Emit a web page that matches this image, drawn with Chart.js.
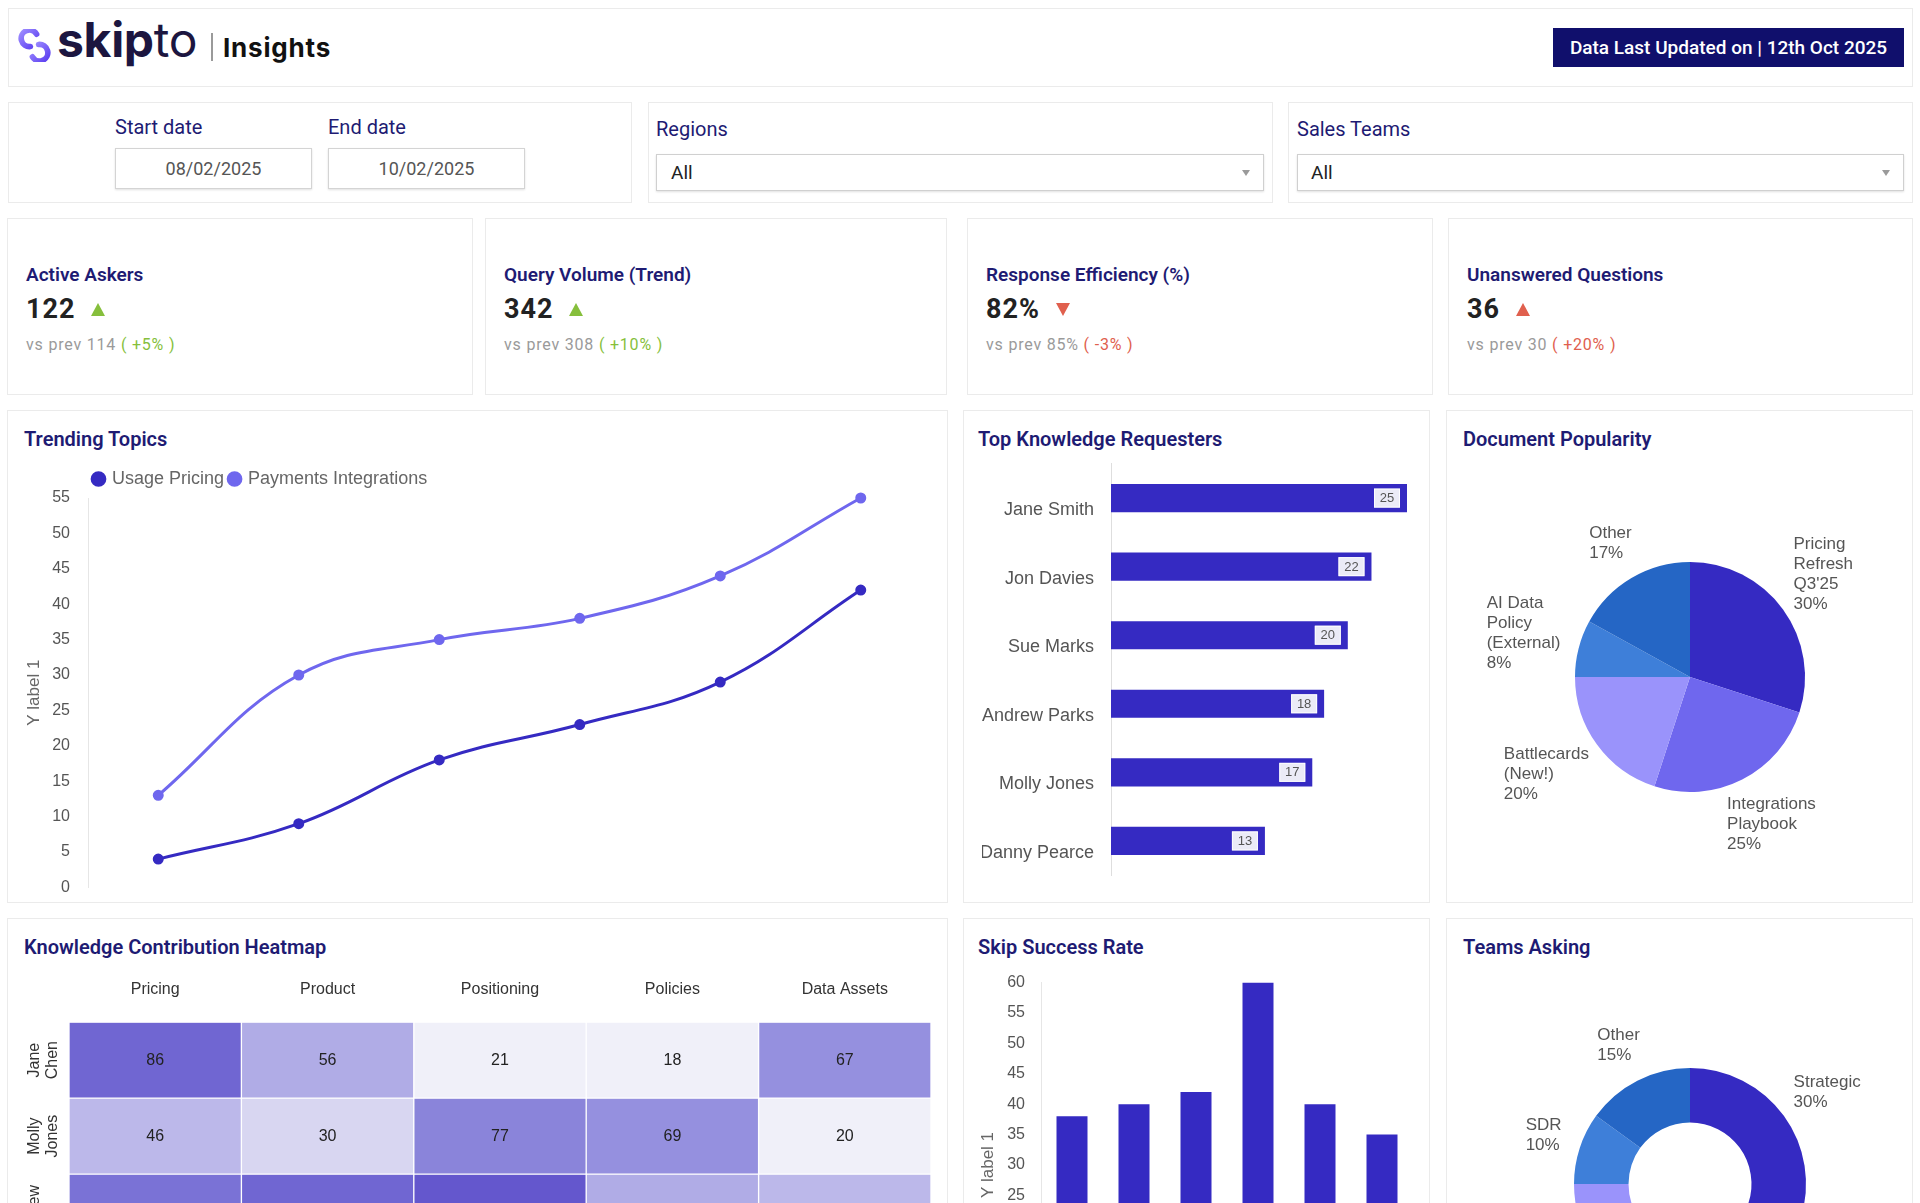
<!DOCTYPE html>
<html>
<head>
<meta charset="utf-8">
<script src="https://cdn.jsdelivr.net/npm/chart.js@4.4.0/dist/chart.umd.min.js"></script>
<style>
  html, body { margin: 0; padding: 0; background: #fff; overflow: hidden; width: 1920px; height: 1203px; }
  body { position: relative; font-family: Roboto, 'Liberation Sans', sans-serif; }
  .card { position: absolute; box-sizing: border-box; border: 1.5px solid #ebebeb; background: #fff; }
  .abs { position: absolute; }
  .flabel { position: absolute; font-size: 20px; line-height: 1; color: #1e1b73; }
  .datebox { position: absolute; box-sizing: border-box; width: 197px; height: 41px; border: 1px solid #d4d4d4;
             box-shadow: 0 1px 2px rgba(0,0,0,0.12); font-size: 18px; color: #555; text-align: center; line-height: 39px; }
  .select { position: absolute; box-sizing: border-box; height: 37px; border: 1px solid #d0d0d0;
            box-shadow: 0 1px 2px rgba(0,0,0,0.12); font-size: 19px; color: #222; line-height: 35px; }
  .select .arrow { position: absolute; top: 15px; width: 0; height: 0; border-left: 4.5px solid transparent;
                   border-right: 4.5px solid transparent; border-top: 6px solid #9a9a9a; }
  .kpi-t { position: absolute; left: 18px; top: 46px; font-size: 19px; line-height: 1; font-weight: 600; color: #1e1b73; }
  .kpi-v { position: absolute; left: 18px; top: 77px; font-size: 27px; line-height: 27px; font-weight: 700; color: #222;
           letter-spacing: 1px; display: flex; align-items: center; }
  .kpi-s { position: absolute; left: 18px; top: 118px; font-size: 16px; line-height: 1; color: #9a9a9a; letter-spacing: 0.8px; }
  .tri { display: inline-block; width: 0; height: 0; margin-left: 16px; border-left: 7px solid transparent; border-right: 7px solid transparent; }
  .tri.up { border-bottom: 13px solid; }
  .tri.down { border-top: 13px solid; }
  .g { color: #86bf3c; }
  .r { color: #e0604e; }
  .ctitle { position: absolute; left: 16px; top: 18px; font-size: 20px; line-height: 1; font-weight: 600; color: #1e1b73; }
  .cwrap { position: absolute; }
</style>
</head>
<body>

<!-- header -->
<div class="card" style="left:8px;top:8px;width:1905px;height:79px"></div>
<svg class="abs" style="left:18px;top:29px" width="33" height="33" viewBox="0 0 32 32">
  <defs>
    <linearGradient id="lg" x1="0" y1="0" x2="1" y2="1">
      <stop offset="0" stop-color="#9d8cff"/>
      <stop offset="1" stop-color="#5b3ef0"/>
    </linearGradient>
  </defs>
  <path d="M18 5 A8 8 0 1 0 12 17" fill="none" stroke="url(#lg)" stroke-width="5.5" stroke-linecap="round"/>
  <path d="M14 27 A8 8 0 1 0 20 15" fill="none" stroke="url(#lg)" stroke-width="5.5" stroke-linecap="round"/>
</svg>
<div class="abs" style="left:57px;top:16px;font-family:Inter,sans-serif;font-size:48px;line-height:1;color:#1c1640;letter-spacing:-0.3px"><span style="font-weight:700">skip</span><span style="font-weight:400">to</span></div>
<div class="abs" style="left:211px;top:33px;width:1.5px;height:28px;background:#9a9a9a"></div>
<div class="abs" style="left:223px;top:35px;font-family:Inter,sans-serif;font-size:26px;line-height:1;font-weight:700;color:#111;letter-spacing:0.8px">Insights</div>
<div class="abs" style="left:1553px;top:28px;width:351px;height:39px;background:#100f6c;color:#fff;font-size:19px;font-weight:500;line-height:39px;text-align:center">Data Last Updated on | 12th Oct 2025</div>

<!-- filters -->
<div class="card" style="left:8px;top:102px;width:624px;height:101px">
  <div class="flabel" style="left:106px;top:14px">Start date</div>
  <div class="flabel" style="left:319px;top:14px">End date</div>
  <div class="datebox" style="left:106px;top:45px">08/02/2025</div>
  <div class="datebox" style="left:319px;top:45px">10/02/2025</div>
</div>
<div class="card" style="left:648px;top:102px;width:625px;height:101px">
  <div class="flabel" style="left:7px;top:16px">Regions</div>
  <div class="select" style="left:7px;top:51px;width:608px;padding-left:14px">All<span class="arrow" style="left:585px"></span></div>
</div>
<div class="card" style="left:1288px;top:102px;width:625px;height:101px">
  <div class="flabel" style="left:8px;top:16px">Sales Teams</div>
  <div class="select" style="left:8px;top:51px;width:607px;padding-left:13px">All<span class="arrow" style="left:584px"></span></div>
</div>

<!-- KPI cards -->
<div class="card" style="left:7px;top:218px;width:466px;height:177px">
  <div class="kpi-t">Active Askers</div>
  <div class="kpi-v">122<span class="tri up g"></span></div>
  <div class="kpi-s">vs prev 114 <span class="g">( +5% )</span></div>
</div>
<div class="card" style="left:485px;top:218px;width:462px;height:177px">
  <div class="kpi-t">Query Volume (Trend)</div>
  <div class="kpi-v">342<span class="tri up g"></span></div>
  <div class="kpi-s">vs prev 308 <span class="g">( +10% )</span></div>
</div>
<div class="card" style="left:967px;top:218px;width:466px;height:177px">
  <div class="kpi-t">Response Efficiency (%)</div>
  <div class="kpi-v">82%<span class="tri down r"></span></div>
  <div class="kpi-s">vs prev 85% <span class="r">( -3% )</span></div>
</div>
<div class="card" style="left:1448px;top:218px;width:465px;height:177px">
  <div class="kpi-t">Unanswered Questions</div>
  <div class="kpi-v">36<span class="tri up r"></span></div>
  <div class="kpi-s">vs prev 30 <span class="r">( +20% )</span></div>
</div>

<!-- chart cards row 1 -->
<div class="card" style="left:7px;top:410px;width:941px;height:493px"><div class="ctitle">Trending Topics</div></div>
<div class="card" style="left:963px;top:410px;width:467px;height:493px"><div class="ctitle" style="left:14px">Top Knowledge Requesters</div></div>
<div class="card" style="left:1446px;top:410px;width:467px;height:493px"><div class="ctitle">Document Popularity</div></div>

<!-- chart cards row 2 -->
<div class="card" style="left:7px;top:918px;width:941px;height:493px"><div class="ctitle">Knowledge Contribution Heatmap</div></div>
<div class="card" style="left:963px;top:918px;width:467px;height:493px"><div class="ctitle" style="left:14px">Skip Success Rate</div></div>
<div class="card" style="left:1446px;top:918px;width:467px;height:493px"><div class="ctitle">Teams Asking</div></div>

<div class="cwrap" style="left:21px;top:464px;width:917px;height:451px"><canvas id="trend"></canvas></div>
<div class="cwrap" style="left:982px;top:436px;width:438px;height:467px"><canvas id="topk"></canvas></div>
<div class="cwrap" style="left:1456px;top:460px;width:448px;height:434px"><canvas id="docs"></canvas></div>
<div class="cwrap" style="left:20px;top:957px;width:920px;height:369px"><canvas id="heat"></canvas></div>
<div class="cwrap" style="left:975px;top:957px;width:450px;height:416px"><canvas id="skip"></canvas></div>
<div class="cwrap" style="left:1456px;top:960px;width:448px;height:440px"><canvas id="teams"></canvas></div>

<script>
// ---- data ----
const trendWeeks = ['Wk 1', 'Wk 2', 'Wk 3', 'Wk 4', 'Wk 5', 'Wk 6'];
const usagePricing = [4, 9, 18, 23, 29, 42];
const paymentsIntegrations = [13, 30, 35, 38, 44, 55];

const requesters = ['Jane Smith', 'Jon Davies', 'Sue Marks', 'Andrew Parks', 'Molly Jones', 'Danny Pearce'];
const requestCounts = [25, 22, 20, 18, 17, 13];

const docNames = [['Pricing', 'Refresh', "Q3'25"], ['Integrations', 'Playbook'], ['Battlecards', '(New!)'], ['AI Data', 'Policy', '(External)'], ['Other']];
const docShares = [30, 25, 20, 8, 17];

const heatColumns = ['Pricing', 'Product', 'Positioning', 'Policies', 'Data Assets'];
const heatPeople = [['Jane', 'Chen'], ['Molly', 'Jones'], ['Andrew', 'Li'], ['Sue', 'Marks']];
const heatJane = [86, 56, 21, 18, 67];
const heatMolly = [46, 30, 77, 69, 20];
const heatAndrew = [82, 88, 94, 54, 45];
const heatSue = [35, 62, 48, 72, 58];

const skipPeriods = ['Jan', 'Feb', 'Mar', 'Apr', 'May', 'Jun'];
const skipRates = [38, 40, 42, 60, 40, 35];

const teamNames = [['Strategic'], ['Enterprise'], ['Mid-Market'], ['SDR'], ['Other']];
const teamShares = [30, 25, 20, 10, 15];

const palette = ['#352ac2', '#6f67ee', '#9a93fb', '#3e7fd9', '#2566c5'];

Chart.defaults.font.family = "'Liberation Sans', Arial, sans-serif";
Chart.defaults.color = '#555';
Chart.defaults.animation = false;
Chart.defaults.plugins.tooltip.enabled = false;

// labels outside pie slices, text block pushed out along the slice middle
const outsideLabels = {
  id: 'outsideLabels',
  afterDatasetsDraw(chart) {
    const ctx = chart.ctx;
    const ds = chart.data.datasets[0];
    const lh = 20;
    ctx.save();
    ctx.font = "17px 'Liberation Sans', Arial, sans-serif";
    ctx.fillStyle = '#555';
    ctx.textAlign = 'left';
    ctx.textBaseline = 'middle';
    chart.getDatasetMeta(0).data.forEach((arc, i) => {
      const lines = chart.data.labels[i].concat([ds.data[i] + '%']);
      const w = Math.max(...lines.map(l => ctx.measureText(l).width));
      const h = lines.length * lh;
      const mid = (arc.startAngle + arc.endAngle) / 2;
      const dx = Math.cos(mid), dy = Math.sin(mid);
      const d = arc.outerRadius + 20;
      const cx = arc.x + dx * d + dx * w / 2;
      const cy = arc.y + dy * d + dy * h / 2;
      lines.forEach((l, k) => ctx.fillText(l, cx - w / 2, cy - h / 2 + lh / 2 + k * lh));
    });
    ctx.restore();
  }
};

// small value box at the end of each bar
const valueBoxes = {
  id: 'valueBoxes',
  afterDatasetsDraw(chart) {
    const ctx = chart.ctx;
    ctx.save();
    ctx.font = "13px 'Liberation Sans', Arial, sans-serif";
    ctx.textAlign = 'center';
    ctx.textBaseline = 'middle';
    chart.getDatasetMeta(0).data.forEach((bar, i) => {
      const bw = 26, bh = 19;
      const x = bar.x - 7 - bw, y = bar.y - bh / 2;
      ctx.fillStyle = '#ebebf7';
      ctx.fillRect(x, y, bw, bh);
      ctx.strokeStyle = 'rgba(255,255,255,0.9)';
      ctx.lineWidth = 1;
      ctx.strokeRect(x + 0.5, y + 0.5, bw - 1, bh - 1);
      ctx.fillStyle = '#555';
      ctx.fillText(String(chart.data.datasets[0].data[i]), x + bw / 2, bar.y + 0.5);
    });
    ctx.restore();
  }
};

// ---- trending topics ----
new Chart(document.getElementById('trend'), {
  type: 'line',
  data: {
    labels: trendWeeks,
    datasets: [
      { label: 'Usage Pricing', data: usagePricing, borderColor: palette[0], backgroundColor: palette[0],
        pointBackgroundColor: palette[0], borderWidth: 3, pointRadius: 4, tension: 0.4 },
      { label: 'Payments Integrations', data: paymentsIntegrations, borderColor: palette[1], backgroundColor: palette[1],
        pointBackgroundColor: palette[1], borderWidth: 3, pointRadius: 4, tension: 0.4 }
    ]
  },
  options: {
    responsive: true,
    maintainAspectRatio: false,
    layout: { padding: { right: 2 } },
    plugins: {
      legend: {
        position: 'top', align: 'start', fullSize: false,
        labels: { usePointStyle: true, pointStyle: 'circle', boxWidth: 9, boxHeight: 9, padding: 6,
                  color: '#666', font: { size: 18 } }
      }
    },
    scales: {
      x: { display: false, offset: true },
      y: {
        beginAtZero: true,
        afterFit: s => { s.width = 67; },
        ticks: { stepSize: 5, padding: 18, color: '#555', font: { size: 16 } },
        grid: { display: false, drawTicks: false },
        border: { color: '#e6e6e6' },
        title: { display: true, text: 'Y label 1', color: '#666', font: { size: 17 }, padding: { top: 3, bottom: 4 } }
      }
    }
  }
});

// ---- top knowledge requesters ----
new Chart(document.getElementById('topk'), {
  type: 'bar',
  data: {
    labels: requesters,
    datasets: [{ label: 'Requests', data: requestCounts, backgroundColor: palette[0],
                 categoryPercentage: 0.82, barPercentage: 0.5 }]
  },
  options: {
    indexAxis: 'y',
    responsive: true,
    maintainAspectRatio: false,
    layout: { padding: { right: 13 } },
    plugins: { legend: { display: false } },
    scales: {
      x: { display: false, beginAtZero: true, max: Math.max(...requestCounts) },
      y: {
        afterFit: s => { s.width = 129; },
        grid: { display: false, drawTicks: false },
        border: { color: '#dedede' },
        ticks: { padding: 17, labelOffset: 12, color: '#555', font: { size: 18 } }
      }
    }
  },
  plugins: [valueBoxes]
});

// ---- document popularity ----
new Chart(document.getElementById('docs'), {
  type: 'pie',
  data: {
    labels: docNames,
    datasets: [{ data: docShares, backgroundColor: palette, borderWidth: 0 }]
  },
  options: {
    responsive: true,
    maintainAspectRatio: false,
    layout: { padding: { left: 119, right: 99, top: 102, bottom: 102 } },
    plugins: { legend: { display: false } }
  },
  plugins: [outsideLabels]
});

// ---- heatmap ----
const heatRows = [heatJane, heatMolly, heatAndrew, heatSue];
function heatColor(v) {
  if (v >= 90) return '#6457cd';
  if (v >= 85) return '#7066d2';
  if (v >= 80) return '#7a72d6';
  if (v >= 70) return '#8a84da';
  if (v >= 60) return '#9590df';
  if (v >= 50) return '#b0ace6';
  if (v >= 40) return '#bcb8ea';
  if (v >= 30) return '#d8d6f1';
  return '#f0f0f9';
}
const heatText = {
  id: 'heatText',
  afterDatasetsDraw(chart) {
    const ctx = chart.ctx;
    const yScale = chart.scales.y;
    ctx.save();
    ctx.textAlign = 'center';
    ctx.textBaseline = 'middle';
    ctx.font = "16px 'Liberation Sans', Arial, sans-serif";
    ctx.fillStyle = '#222';
    heatRows.forEach((row, r) => {
      chart.getDatasetMeta(r).data.forEach((cell, c) => {
        const p = cell.getCenterPoint();
        ctx.fillText(String(row[c]), p.x, p.y);
      });
    });
    ctx.fillStyle = '#333';
    heatPeople.forEach((name, r) => {
      const yc = yScale.getPixelForValue(r + 0.5);
      ctx.save();
      ctx.translate(chart.chartArea.left - 25, yc);
      ctx.rotate(-Math.PI / 2);
      ctx.fillText(name[0], 0, -9);
      ctx.fillText(name[1], 0, 9);
      ctx.restore();
    });
    ctx.restore();
  }
};
new Chart(document.getElementById('heat'), {
  type: 'bar',
  data: {
    labels: heatColumns,
    datasets: heatRows.map((row, r) => ({
      label: heatPeople[r].join(' '),
      data: row.map(() => 1),
      backgroundColor: row.map(heatColor),
      borderColor: 'rgba(255,255,255,0.45)',
      borderWidth: 1,
      borderSkipped: false,
      categoryPercentage: 1,
      barPercentage: 1
    }))
  },
  options: {
    responsive: true,
    maintainAspectRatio: false,
    layout: { padding: { left: 49, right: 9 } },
    plugins: { legend: { display: false } },
    scales: {
      x: { stacked: true, position: 'top', grid: { display: false, drawTicks: false }, border: { display: false },
           ticks: { padding: 23, color: '#333', font: { size: 16 } } },
      y: { stacked: true, reverse: true, min: 0, max: heatRows.length, display: false }
    }
  },
  plugins: [heatText]
});

// ---- skip success rate ----
new Chart(document.getElementById('skip'), {
  type: 'bar',
  data: {
    labels: skipPeriods,
    datasets: [{ label: 'Skip Success', data: skipRates, backgroundColor: palette[0],
                 categoryPercentage: 1, barPercentage: 0.5 }]
  },
  options: {
    responsive: true,
    maintainAspectRatio: false,
    layout: { padding: { right: 12 } },
    plugins: { legend: { display: false } },
    scales: {
      x: { display: false },
      y: {
        beginAtZero: true,
        afterFit: s => { s.width = 66; },
        ticks: { stepSize: 5, padding: 16, color: '#555', font: { size: 16 } },
        grid: { display: false, drawTicks: false },
        border: { color: '#e6e6e6' },
        title: { display: true, text: 'Y label 1', color: '#666', font: { size: 17 }, padding: { top: 3, bottom: 4 } }
      }
    }
  }
});

// ---- teams asking ----
new Chart(document.getElementById('teams'), {
  type: 'doughnut',
  data: {
    labels: teamNames,
    datasets: [{ data: teamShares, backgroundColor: palette, borderWidth: 0 }]
  },
  options: {
    responsive: true,
    maintainAspectRatio: false,
    cutout: '53%',
    layout: { padding: { left: 118, right: 98, top: 108, bottom: 100 } },
    plugins: { legend: { display: false } }
  },
  plugins: [outsideLabels]
});
</script>
</body>
</html>
